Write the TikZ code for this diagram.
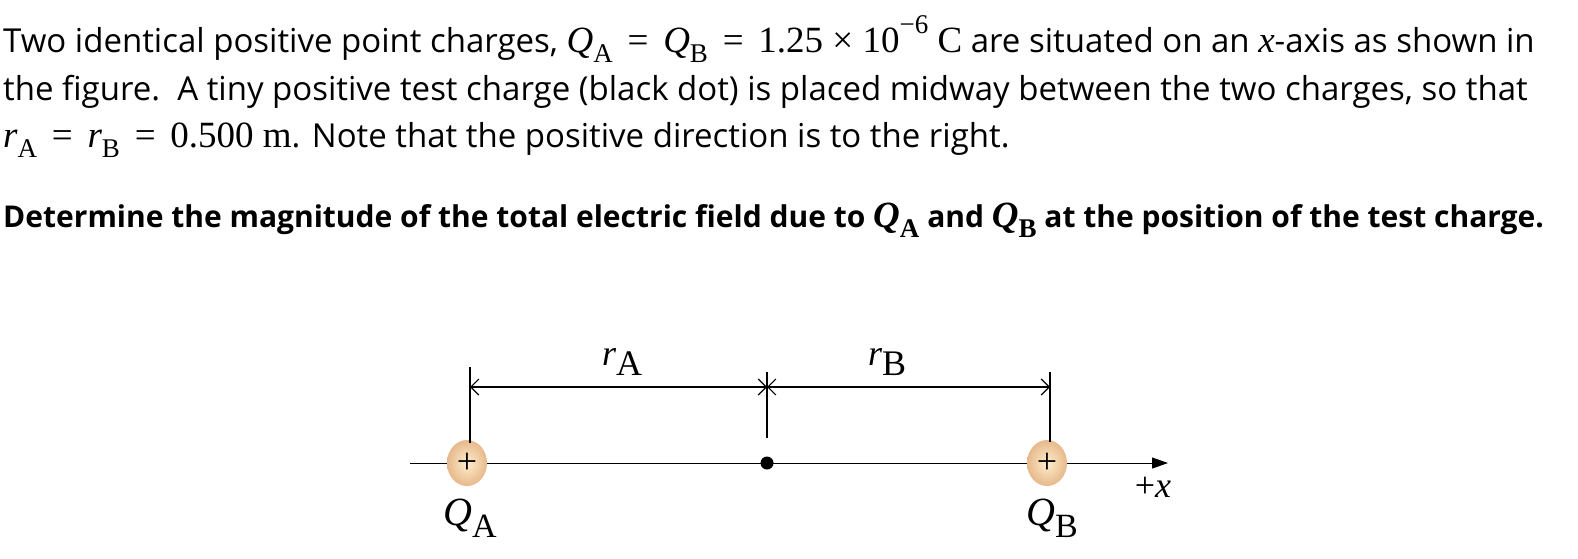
\documentclass[tikz,border=0pt]{standalone}
\usepackage{fontspec}
\setmainfont{Open Sans}
\newfontfamily\tms{Liberation Serif}
\usetikzlibrary{arrows.meta,shapes.geometric}
\newcommand{\mv}[1]{{\tms\itshape #1}}
\newcommand{\mr}[1]{{\tms #1}}
\newcommand{\sub}[1]{\raisebox{-0.28em}{\tms\fontsize{27}{27}\selectfont #1}}
\newcommand{\msz}{\fontsize{37}{37}\selectfont}
\newcommand{\QA}{{\msz\mv{Q}\sub{A}}}
\newcommand{\QB}{{\msz\mv{Q}\sub{B}}}
\newcommand{\rA}{{\msz\mv{r}\sub{A}}}
\newcommand{\rB}{{\msz\mv{r}\sub{B}}}
\newcommand{\eqs}{{\msz\mr{\hspace{0.4em}=\hspace{0.4em}}}}
\tikzset{txt/.style={anchor=base west,inner sep=0pt,font=\fontsize{33}{33}\selectfont},
fig/.style={inner sep=0pt,font=\tms\fontsize{36}{36}\selectfont},
charge/.style={ellipse,minimum width=40pt,minimum height=46pt,inner sep=0pt,shading=radial,inner color=yellow!30!orange!20,outer color=brown!70!orange!55,draw=none},
dim/.style={line width=1.2pt,{Straight Barb[length=8pt,width=16pt]}-{Straight Barb[length=8pt,width=16pt]}}}
\begin{document}
\begin{tikzpicture}[x=1pt,y=-1pt]
\useasboundingbox (0,0) rectangle (1578,558);
\node[txt] (l1) at (3,52) {Two identical positive point charges, \QA\eqs\QB\eqs{\msz\mr{1.25 × 10}}\raisebox{0.55em}{\tms\fontsize{27}{27}\selectfont −6}{\msz\mr{ C}} are situated on an \mv{\fontsize{37}{37}\selectfont x}-axis as shown in};
\node[txt] (l2) at (3,100) {the figure.\ \ A tiny positive test charge (black dot) is placed midway between the two charges, so that};
\node[txt] (l3) at (3,147) {\rA\eqs\rB\eqs{\msz\mr{0.500 m}}. Note that the positive direction is to the right.};
\node[txt,font=\bfseries\fontsize{30}{30}\selectfont] (l4) at (3,227) {Determine the magnitude of the total electric field due to \QA\ and \QB\ at the position of the test charge.};
% figure
\coordinate (axs) at (410,463);
\coordinate (axe) at (1168,463);
\draw[line width=1pt,-{Triangle[length=16pt,width=11pt]}] (axs) -- (axe);
\node[charge] (qa) at (467,463) {};
\node[charge] (qb) at (1047,463) {};
\node[fig] at (qa) {+};
\node[fig] at (qb) {+};
\node[circle,fill=black,minimum size=13pt,inner sep=0pt] (t) at (767,463) {};
\coordinate (va1) at (470,367); \coordinate (va2) at (470,443);
\coordinate (vm1) at (767,372); \coordinate (vm2) at (767,438);
\coordinate (vb1) at (1050,372); \coordinate (vb2) at (1050,442);
\draw[line width=1.2pt] (va1) -- (va2) (vm1) -- (vm2) (vb1) -- (vb2);
\coordinate (da) at (470,387); \coordinate (dm) at (767,387); \coordinate (db) at (1050,387);
\draw[dim] (da) -- (dm);
\draw[dim] (dm) -- (db);
\node[fig] (la) at (622,362) {\mv{r}\raisebox{-0.3em}{A}};
\node[fig] (lb) at (887,362) {\mv{r}\raisebox{-0.3em}{B}};
\node[fig] (lx) at (1153,487) {+\mv{x}};
\node[fig,font=\tms\fontsize{40}{40}\selectfont] (lqa) at (470,518) {\mv{Q}\raisebox{-0.3em}{\fontsize{34}{34}\selectfont A}};
\node[fig,font=\tms\fontsize{40}{40}\selectfont] (lqb) at (1052,518) {\mv{Q}\raisebox{-0.3em}{\fontsize{34}{34}\selectfont B}};
\end{tikzpicture}
\end{document}
